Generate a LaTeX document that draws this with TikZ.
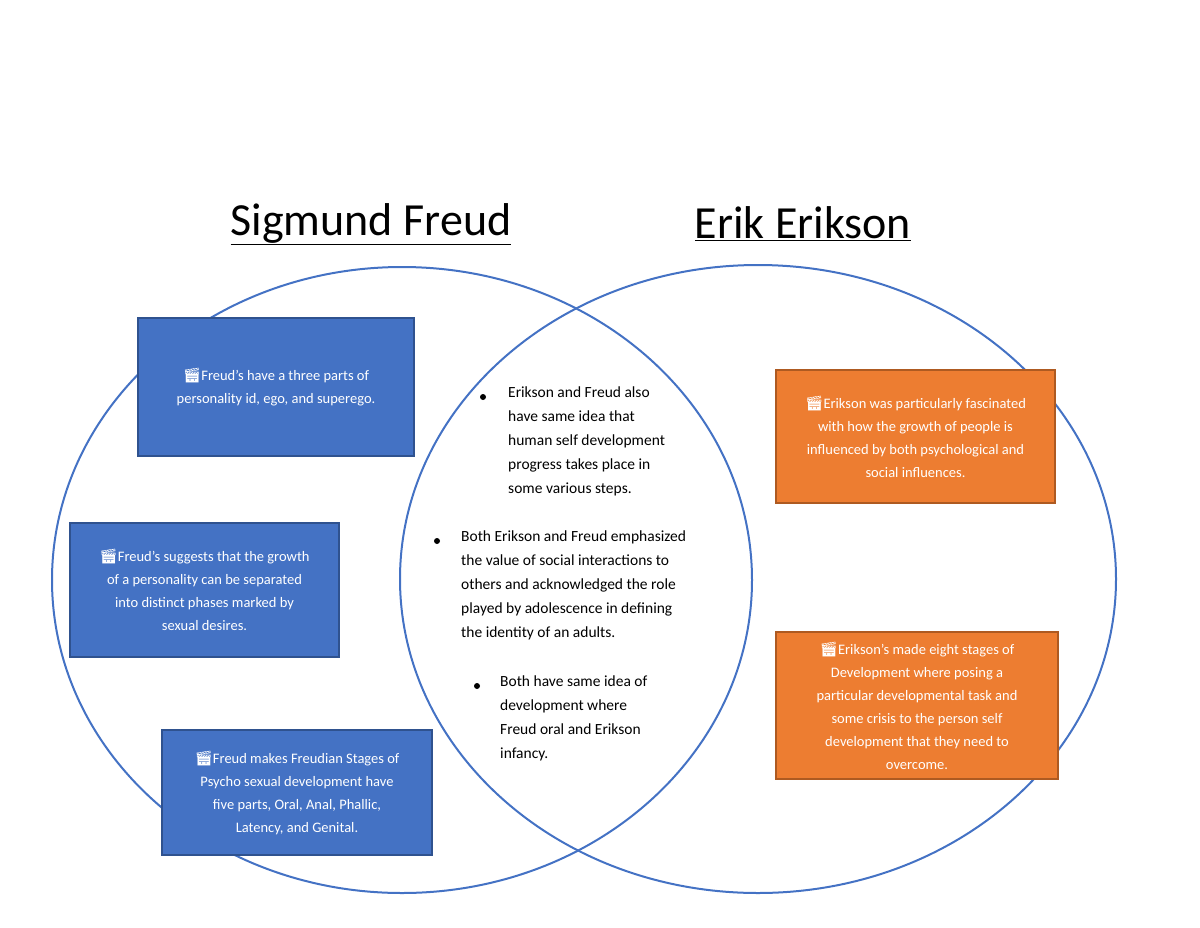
\documentclass[tikz,border=0pt]{standalone}
\usepackage{fontspec}
\setmainfont{Carlito}
\newfontfamily\emo{Noto Emoji}
\definecolor{bfill}{HTML}{4472C4}
\definecolor{bline}{HTML}{2F528F}
\definecolor{ofill}{HTML}{ED7D31}
\definecolor{oline}{HTML}{AE5A21}
\definecolor{circ}{HTML}{4472C4}
\begin{document}
\begin{tikzpicture}[x=1pt,y=-1pt,
  bbox/.style={draw=bline,fill=bfill,line width=1.5pt,text=white,align=center,font=\fontsize{14.5}{23}\selectfont},
  obox/.style={draw=oline,fill=ofill,line width=1.5pt,text=white,align=center,font=\fontsize{14.5}{23}\selectfont},
  ttl/.style={font=\fontsize{46}{50}\selectfont},
  ctext/.style={anchor=north west,align=left,font=\fontsize{15.5}{23.8}\selectfont,inner sep=0pt},
  bul/.style={circle,fill=black,inner sep=0pt,minimum size=6pt}]
\useasboundingbox (0,0) rectangle (1200,927);
\draw[circ,line width=2pt] (402,580) ellipse [x radius=350,y radius=313];
\draw[circ,line width=2pt] (758,579) ellipse [x radius=358,y radius=314];
\node[ttl] (t1) at (371,224) {\underline{Sigmund Freud}};
\node[ttl] (t2) at (803,224) {\underline{Erik Erikson}};
\path[bbox] (138,318) rectangle (414,456) node[midway] (b1) {{\emo 🎬}Freud’s have a three parts of\\personality id, ego, and superego.};
\path[bbox] (70,523) rectangle (339,657) node[midway] (b2) {{\emo 🎬}Freud’s suggests that the growth\\of a personality can be separated\\into distinct phases marked by\\sexual desires.};
\path[bbox] (162,730) rectangle (432,855) node[midway] (b3) {{\emo 🎬}Freud makes Freudian Stages of\\Psycho sexual development have\\five parts, Oral, Anal, Phallic,\\Latency, and Genital.};
\path[obox] (776,370) rectangle (1055,503) node[midway] (o1) {{\emo 🎬}Erikson was particularly fascinated\\with how the growth of people is\\influenced by both psychological and\\social influences.};
\path[obox] (776,632) rectangle (1058,779) node[midway] (o2) {{\emo 🎬}Erikson’s made eight stages of\\Development where posing a\\particular developmental task and\\some crisis to the person self\\development that they need to\\overcome.};
\node[bul] (p1) at (483,397) {};
\node[ctext] (c1) at (508,387) {Erikson and Freud also\\have same idea that\\human self development\\progress takes place in\\some various steps.};
\node[bul] (p2) at (437,541) {};
\node[ctext] (c2) at (461,531) {Both Erikson and Freud emphasized\\the value of social interactions to\\others and acknowledged the role\\played by adolescence in defining\\the identity of an adults.};
\node[bul] (p3) at (477,686) {};
\node[ctext] (c3) at (500,676) {Both have same idea of\\development where\\Freud oral and Erikson\\infancy.};
\end{tikzpicture}
\end{document}
